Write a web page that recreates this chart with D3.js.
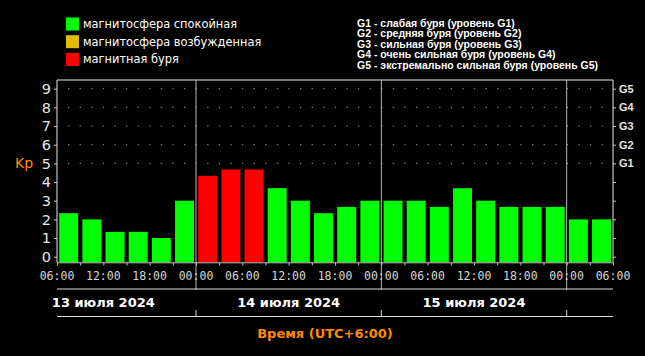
<!DOCTYPE html>
<html><head><meta charset="utf-8">
<script src="https://cdn.jsdelivr.net/npm/d3@7"></script>
<style>html,body{margin:0;padding:0;background:#000;}svg{display:block;}</style>
</head><body>
<svg id="c" width="645" height="356"></svg>
<script>
// ---- data ----
const startTime = "2024-07-13T06:00";
const endTime = "2024-07-16T06:00";
const kpValues = [2.33, 2.0, 1.33, 1.33, 1.0, 3.0, 4.33, 4.67, 4.67, 3.67, 3.0, 2.33,
                  2.67, 3.0, 3.0, 3.0, 2.67, 3.67, 3.0, 2.67, 2.67, 2.67, 2.0, 2.0];
const kpStatus = ["q","q","q","q","q","q","s","s","s","q","q","q",
                  "q","q","q","q","q","q","q","q","q","q","q","q"];
const yTicks = [0,1,2,3,4,5,6,7,8,9];
const gLevels = [5,6,7,8,9];
const gLabels = ["G1","G2","G3","G4","G5"];
const dayStarts = ["2024-07-13T00:00","2024-07-14T00:00","2024-07-15T00:00","2024-07-16T00:00"];
const dayLabels = ["13 июля 2024","14 июля 2024","15 июля 2024"];
const legendItems = ["магнитосфера спокойная","магнитосфера возбужденная","магнитная буря"];
const legendKeys = ["q","a","s"];
const gLegend = ["G1 - слабая буря (уровень G1)","G2 - средняя буря (уровень G2)",
  "G3 - сильная буря (уровень G3)","G4 - очень сильная буря (уровень G4)",
  "G5 - экстремально сильная буря (уровень G5)"];
const xTitle = "Время (UTC+6:00)";
const yTitle = "Kp";

// ---- setup ----
const parse = d3.utcParse("%Y-%m-%dT%H:%M");
const t0 = parse(startTime), t1 = parse(endTime);
const colors = {q:"#00ff00", a:"#e0bd00", s:"#ff0000"};
const L = 57, R = 613, T = 80, B = 262.5;
const svg = d3.select("#c");
const x = d3.scaleUtc().domain([t0, t1]).range([L, R]);
const y = d3.scaleLinear().domain([0, 9]).range([256.7, 88.7]);
const bars = kpValues.map((v, i) => ({v, s: kpStatus[i], t: d3.utcHour.offset(t0, 3*i)}));

// dotted grid
svg.append("g").selectAll("line").data(gLevels).join("line")
  .attr("x1", L + 11).attr("x2", R).attr("y1", d => y(d)).attr("y2", d => y(d))
  .attr("stroke", "#9a9a9a").attr("stroke-width", 1).attr("stroke-dasharray", "1.3,10.3");

// bars
svg.append("g").selectAll("rect").data(bars).join("rect")
  .attr("x", d => x(d.t) + 2.2)
  .attr("width", d => x(d3.utcHour.offset(d.t, 3)) - x(d.t) - 4.2)
  .attr("y", d => y(d.v)).attr("height", d => B - y(d.v))
  .attr("fill", d => colors[d.s]);

// day separators
const seps = dayStarts.map(parse).filter(d => d > t0 && d < t1);
svg.append("g").selectAll("line").data(seps).join("line")
  .attr("x1", d => x(d)).attr("x2", d => x(d)).attr("y1", T).attr("y2", 290)
  .attr("stroke", "#b8b8b8").attr("stroke-width", 1);

// frame
const fr = svg.append("g").attr("stroke", "#e6e6e6").attr("stroke-width", 1).attr("fill", "none");
fr.append("path").attr("d", `M${L},${B}V${T}H${R}V${B}`);
svg.append("line").attr("x1", L).attr("x2", R).attr("y1", B + 0.3).attr("y2", B + 0.3)
  .attr("stroke", "#bdbdbd");

// left axis
const yl = svg.append("g").attr("transform", `translate(${L},0)`)
  .call(d3.axisLeft(y).tickValues(yTicks).tickSize(3).tickPadding(3));
yl.select(".domain").remove();
yl.selectAll("line").attr("stroke", "#cfcfcf");
yl.selectAll("text").attr("fill", "#e6e6e6").attr("font-family", "DejaVu Sans").attr("font-size", 14.5);

// right axis
const yr = svg.append("g").attr("transform", `translate(${R},0)`)
  .call(d3.axisRight(y).tickValues(yTicks).tickSize(3).tickFormat(""));
yr.select(".domain").remove();
yr.selectAll("line").attr("stroke", "#cfcfcf");
svg.append("g").selectAll("text").data(gLevels).join("text")
  .attr("x", 619).attr("y", d => y(d)).attr("dy", "0.36em")
  .attr("fill", "#e6e6e6").attr("font-family", "Liberation Sans").attr("font-weight", "bold")
  .attr("font-size", 11).text((d, i) => gLabels[i]);

// bottom axis
const xa = svg.append("g").attr("transform", `translate(0,${B})`)
  .call(d3.axisBottom(x).ticks(d3.utcHour.every(3)).tickSize(3).tickFormat(""));
xa.select(".domain").remove();
xa.selectAll("line").attr("stroke", "#bdbdbd");
const lblTicks = d3.utcHour.every(6).range(t0, d3.utcHour.offset(t1, 1));
svg.append("g").selectAll("text").data(lblTicks).join("text")
  .attr("x", d => x(d)).attr("y", 280).attr("text-anchor", "middle")
  .attr("fill", "#d8d8d8").attr("font-family", "DejaVu Sans Mono").attr("font-size", 11.5)
  .text(d3.utcFormat("%H:%M"));

// date rows
svg.append("line").attr("x1", L).attr("x2", R).attr("y1", 289).attr("y2", 289).attr("stroke", "#d8d8d8");
svg.append("line").attr("x1", L).attr("x2", R).attr("y1", 316.5).attr("y2", 316.5).attr("stroke", "#d8d8d8");
svg.append("g").selectAll("line").data(seps).join("line")
  .attr("x1", d => x(d)).attr("x2", d => x(d)).attr("y1", 310).attr("y2", 316.5)
  .attr("stroke", "#d8d8d8");
svg.append("g").selectAll("text").data(dayLabels).join("text")
  .attr("x", (d, i) => x(d3.utcHour.offset(parse(dayStarts[i]), 12)))
  .attr("y", 307).attr("text-anchor", "middle")
  .attr("fill", "#ffffff").attr("font-family", "DejaVu Sans").attr("font-weight", "bold")
  .attr("font-size", 13).text(d => d);

// titles
svg.append("text").attr("x", 325).attr("y", 338).attr("text-anchor", "middle")
  .attr("fill", "#ff8a00").attr("font-family", "DejaVu Sans").attr("font-weight", "bold")
  .attr("font-size", 13).text(xTitle);
svg.append("text").attr("x", 15).attr("y", 168)
  .attr("fill", "#ff8a00").attr("font-family", "DejaVu Sans").attr("font-size", 14)
  .text(yTitle);

// legend left
const lg = svg.append("g").selectAll("g").data(legendItems).join("g")
  .attr("transform", (d, i) => `translate(66,${17.5 + i * 17.7})`);
lg.append("rect").attr("width", 13).attr("height", 13).attr("fill", (d, i) => colors[legendKeys[i]]);
lg.append("text").attr("x", 17).attr("y", 10.5).attr("fill", "#ffffff")
  .attr("font-family", "DejaVu Sans").attr("font-size", 11.4).text(d => d);

// legend right
svg.append("g").selectAll("text").data(gLegend).join("text")
  .attr("x", 357).attr("y", (d, i) => 26.5 + i * 10.6)
  .attr("fill", "#ffffff").attr("font-family", "Liberation Sans").attr("font-weight", "bold")
  .attr("font-size", 10.5).text(d => d);
</script>
</body></html>
